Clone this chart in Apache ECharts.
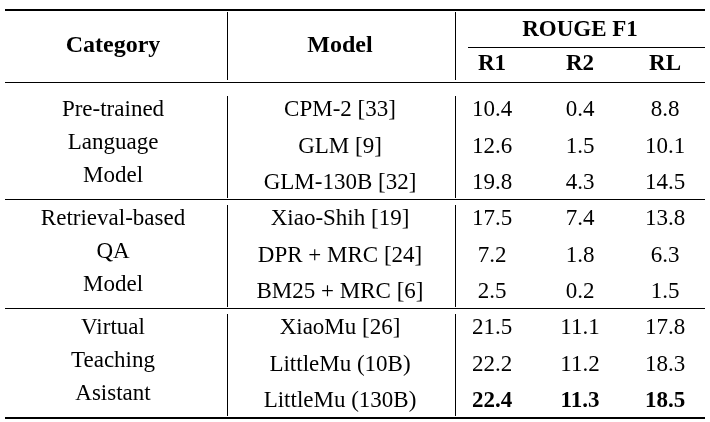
<!DOCTYPE html>
<html><head><meta charset="utf-8">
<script src="https://cdn.jsdelivr.net/npm/echarts@6/dist/echarts.min.js"></script>
<style>html,body{margin:0;background:#fff}#c{width:710px;height:422px}</style>
</head><body><div id="c"></div>
<script>
const categories = [
  ['Pre-trained', 'Language', 'Model'],
  ['Retrieval-based', 'QA', 'Model'],
  ['Virtual', 'Teaching', 'Asistant']
];
const models = [
  'CPM-2 [33]', 'GLM [9]', 'GLM-130B [32]',
  'Xiao-Shih [19]', 'DPR + MRC [24]', 'BM25 + MRC [6]',
  'XiaoMu [26]', 'LittleMu (10B)', 'LittleMu (130B)'
];
const r1 = ['10.4', '12.6', '19.8', '17.5', '7.2', '2.5', '21.5', '22.2', '22.4'];
const r2 = ['0.4', '1.5', '4.3', '7.4', '1.8', '0.2', '11.1', '11.2', '11.3'];
const rl = ['8.8', '10.1', '14.5', '13.8', '6.3', '1.5', '17.8', '18.3', '18.5'];
const boldRow = 8;

const chart = echarts.init(document.getElementById('c'));
const font = '"Liberation Serif", "DejaVu Serif", serif';
const els = [];
const txt = (x, y, s, bold, size) => els.push({
  type: 'text', x, y,
  style: { text: s, fill: '#000', font: (bold ? 'bold ' : '') + (size || 23) + 'px ' + font, align: 'center', verticalAlign: 'middle' }
});
const line = (x1, y1, x2, y2, w) => els.push({
  type: 'line', shape: { x1, y1, x2, y2 }, style: { stroke: '#000', lineWidth: w }
});

const colX = [113, 340, 492, 580, 665];
const rowY = (i) => 110 + Math.floor(i / 3) * 109 + (i % 3) * 36.5;

// header
line(5, 10, 705, 10, 2);
txt(colX[0], 46, 'Category', true, 24);
txt(colX[1], 46, 'Model', true, 24);
txt(580, 30, 'ROUGE F1', true, 23);
line(468, 47.5, 705, 47.5, 1);
txt(colX[2], 64, 'R1', true, 23);
txt(colX[3], 64, 'R2', true, 23);
txt(colX[4], 64, 'RL', true, 23);
line(227.5, 12, 227.5, 80, 1);
line(455.5, 12, 455.5, 80, 1);
line(5, 82.5, 705, 82.5, 1);

// body
categories.forEach((c, g) => {
  c.forEach((s, k) => txt(colX[0], 110 + g * 109 + k * 33, s));
  const top = 92 + g * 109, bot = top + 106;
  line(227.5, top + 4, 227.5, bot, 1);
  line(455.5, top + 4, 455.5, bot, 1);
  if (g < 2) line(5, bot + 1.5, 705, bot + 1.5, 1);
});
models.forEach((m, i) => {
  const y = rowY(i), b = i === boldRow;
  txt(colX[1], y, m);
  txt(colX[2], y, r1[i], b);
  txt(colX[3], y, r2[i], b);
  txt(colX[4], y, rl[i], b);
});
line(5, 418, 705, 418, 2);

chart.setOption({ animation: false, graphic: { elements: els } });
</script></body></html>
